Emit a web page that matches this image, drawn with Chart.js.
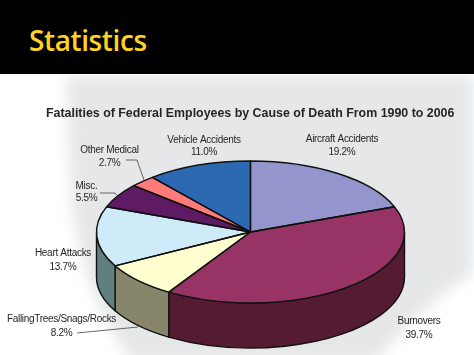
<!DOCTYPE html>
<html><head><meta charset="utf-8">
<style>
html,body{margin:0;padding:0;background:#fff;width:474px;height:355px;overflow:hidden}
#stage{position:relative;width:474px;height:355px;overflow:hidden}
#head{position:absolute;left:0;top:0;width:474px;height:74px;background:#000}
#head span{position:absolute;left:29px;top:21px;font:600 28px "Open Sans",sans-serif;color:#ffd320;line-height:38px;letter-spacing:-.4px}
#blur{position:absolute;left:0;top:75px;width:474px;height:280px;overflow:hidden}
#grey{position:absolute;left:0;top:0;width:474px;height:280px;filter:blur(7px)}
#grey div{width:474px;height:300px;background:#e6e7e9;clip-path:path("M66 -40 L520 -40 L520 170 L474 197 C440 220 410 245 376 286 L132 286 C104 250 78 190 72 130 C69 80 67 40 66 -40 Z")}
canvas{position:absolute;left:0;top:0}
</style></head><body>
<div id="stage">
<div id="blur"><div id="grey"><div></div></div></div>
<div id="head"><span>Statistics</span></div>
<canvas id="c" width="474" height="355"></canvas>
</div>
<script src="https://cdn.jsdelivr.net/npm/chart.js@4/dist/chart.umd.min.js"></script>
<script>
const chartTitle = "Fatalities of Federal Employees by Cause of Death From 1990 to 2006";
const categories = ["Aircraft Accidents","Burnovers","FallingTrees/Snags/Rocks","Heart Attacks","Misc.","Other Medical","Vehicle Accidents"];
const percents = [19.2,39.7,8.2,13.7,5.5,2.7,11.0];
const topColors = ["#9595cd","#983366","#ffffcf","#cdebf8","#5e1a63","#ff7b7a","#2d68b2"];
const sideColors = ["#6a6a92","#541b32","#87866b","#607f80","#3c1040","#a05050","#1d4070"];
const labelSpots = [[342,139],[419,321],[61.5,319],[63,253],[86.5,186],[109.5,150],[204,140]];
const labelGaps = [13,14,14,14,12.5,13,12.5];
const leaders = [null,null,[[77,333],[138,327]],null,[[100,193],[115,193],[118,196]],[[126,160],[137,160],[144,180]],null];
const ellipse = {cx:250.5, cy:232, rx:154, ry:71, depth:45};

const pie3d = {
  id:'pie3d',
  beforeDatasetsDraw(chart){
    const ctx = chart.ctx, arcs = chart.getDatasetMeta(0).data, e = ellipse;
    ctx.save();
    ctx.lineWidth = 1.4; ctx.strokeStyle = '#111';
    arcs.forEach((a,i)=>{
      const s = Math.max(a.startAngle,0), t = Math.min(a.endAngle,Math.PI);
      if(t<=s) return;
      ctx.beginPath();
      ctx.ellipse(e.cx,e.cy,e.rx,e.ry,0,s,t);
      ctx.ellipse(e.cx,e.cy+e.depth,e.rx,e.ry,0,t,s,true);
      ctx.closePath();
      ctx.fillStyle = sideColors[i];
      ctx.fill(); ctx.stroke();
    });
    ctx.restore();
    const a0 = arcs[0];
    ctx.save();
    ctx.translate(e.cx,e.cy);
    ctx.scale(e.rx/a0.outerRadius,e.ry/a0.outerRadius);
    ctx.translate(-a0.x,-a0.y);
  },
  afterDatasetsDraw(chart){
    const ctx = chart.ctx, arcs = chart.getDatasetMeta(0).data, e = ellipse;
    ctx.restore();
    ctx.save();
    ctx.lineWidth = 1.4; ctx.strokeStyle = '#111'; ctx.lineJoin='round';
    arcs.forEach(a=>{
      ctx.beginPath();
      ctx.moveTo(e.cx,e.cy);
      ctx.ellipse(e.cx,e.cy,e.rx,e.ry,0,a.startAngle,a.endAngle);
      ctx.closePath();
      ctx.stroke();
    });
    ctx.fillStyle = '#262626'; ctx.textAlign='center'; ctx.textBaseline='middle';
    ctx.font = '10px "Liberation Sans",Arial,sans-serif';
    ctx.letterSpacing = '-0.3px';
    categories.forEach((name,i)=>{
      const [x,y] = labelSpots[i];
      ctx.fillText(name,x,y);
      ctx.fillText(percents[i].toFixed(1)+'%',x,y+labelGaps[i]);
    });
    ctx.strokeStyle='#444'; ctx.lineWidth=.8;
    leaders.forEach(pts=>{
      if(!pts) return;
      ctx.beginPath();
      pts.forEach(([x,y],k)=>k?ctx.lineTo(x,y):ctx.moveTo(x,y));
      ctx.stroke();
    });
    ctx.restore();
  }
};

new Chart(document.getElementById('c'),{
  type:'pie',
  data:{labels:categories,datasets:[{data:percents,backgroundColor:topColors,borderWidth:0,hoverOffset:0}]},
  options:{
    responsive:false,animation:false,
    layout:{padding:{left:46,top:106}},
    plugins:{
      legend:{display:false},tooltip:{enabled:false},
      title:{display:true,text:chartTitle,align:'start',color:'#262626',padding:0,
        font:{family:'"Liberation Sans",Arial,sans-serif',size:12.4,weight:'bold'}}
    }
  },
  plugins:[pie3d]
});
</script>
</body></html>
